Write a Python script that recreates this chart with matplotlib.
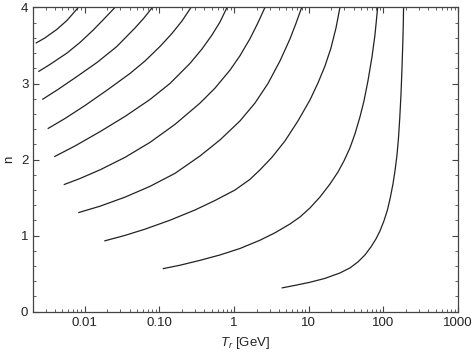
#!/usr/bin/env python3

import matplotlib
matplotlib.use('Agg')
import matplotlib.pyplot as plt
import numpy as np
from matplotlib.ticker import FixedLocator, LogLocator, MultipleLocator, NullFormatter

plt.rcParams['font.family'] = ['Liberation Sans', 'DejaVu Sans']
plt.rcParams['mathtext.fontset'] = 'custom'
plt.rcParams['mathtext.rm'] = 'Liberation Sans'
plt.rcParams['mathtext.it'] = 'Liberation Sans:italic'

# contour lines: log10(T_r / GeV) and n
c1_logT = [-2.656, -2.532, -2.375, -2.237, -2.086]
c1_n = [3.53, 3.60, 3.71, 3.83, 4.0]

c2_logT = [-2.621, -2.465, -2.241, -2.063, -1.885, -1.729, -1.595]
c2_n = [3.156, 3.251, 3.398, 3.540, 3.704, 3.862, 4.0]

c3_logT = [-2.568, -2.358, -2.107, -1.835, -1.572, -1.327, -1.206, -1.095]
c3_n = [2.79, 2.922, 3.09, 3.277, 3.485, 3.73, 3.862, 4.0]

c4_logT = [-2.496, -2.264, -1.996, -1.688, -1.394, -1.193, -0.992, -0.832, -0.698, -0.577]
c4_n = [2.406, 2.540, 2.711, 2.922, 3.132, 3.296, 3.487, 3.658, 3.822, 4.0]

c5_logT = [-2.407, -2.130, -1.795, -1.461, -1.126, -0.858, -0.591, -0.430, -0.296, -0.189, -0.095]
c5_n = [2.038, 2.179, 2.367, 2.567, 2.790, 3.001, 3.264, 3.454, 3.638, 3.809, 4.0]

c6_logT = [-2.281, -2.063, -1.795, -1.461, -1.126, -0.791, -0.457, -0.256, -0.055,
           0.079, 0.213, 0.320, 0.413]
c6_n = [1.670, 1.751, 1.865, 2.029, 2.226, 2.463, 2.742, 2.939, 3.176,
        3.366, 3.590, 3.800, 4.0]

c7_logT = [-2.086, -1.795, -1.461, -1.126, -0.791, -0.457, -0.189, 0.079, 0.280,
           0.454, 0.614, 0.748, 0.828, 0.905]
c7_n = [1.302, 1.387, 1.506, 1.648, 1.819, 2.047, 2.258, 2.508, 2.744,
        3.001, 3.296, 3.586, 3.790, 4.0]

c8_logT = [-1.738, -1.461, -1.193, -0.858, -0.524, -0.256, 0.012, 0.213, 0.347,
           0.507, 0.681, 0.855, 1.016, 1.123, 1.217, 1.297, 1.364, 1.417]
c8_n = [0.930, 1.003, 1.085, 1.203, 1.337, 1.462, 1.600, 1.740, 1.865,
        2.030, 2.245, 2.508, 2.784, 3.007, 3.231, 3.467, 3.730, 4.0]

c9_logT = [-0.956, -0.724, -0.457, -0.189, 0.079, 0.347, 0.547, 0.748, 0.882, 1.016,
           1.150, 1.284, 1.391, 1.471, 1.551, 1.618, 1.685, 1.739, 1.792, 1.846,
           1.886, 1.922]
c9_n = [0.565, 0.611, 0.675, 0.746, 0.831, 0.940, 1.037, 1.153, 1.245, 1.364,
        1.508, 1.679, 1.837, 1.982, 2.153, 2.337, 2.560, 2.771, 3.034, 3.349,
        3.638, 4.0]

c10_logT = [0.637, 0.815, 1.016, 1.217, 1.417, 1.551, 1.658, 1.752, 1.832, 1.899,
            1.953, 2.006, 2.053, 2.093, 2.127, 2.154, 2.181, 2.201, 2.218, 2.234,
            2.247, 2.258, 2.265, 2.269]
c10_n = [0.312, 0.346, 0.387, 0.438, 0.509, 0.575, 0.654, 0.746, 0.851, 0.956,
         1.061, 1.193, 1.337, 1.508, 1.679, 1.850, 2.060, 2.284, 2.547, 2.849,
         3.178, 3.507, 3.770, 4.0]

curves = [(c1_logT, c1_n), (c2_logT, c2_n), (c3_logT, c3_n), (c4_logT, c4_n),
          (c5_logT, c5_n), (c6_logT, c6_n), (c7_logT, c7_n), (c8_logT, c8_n),
          (c9_logT, c9_n), (c10_logT, c10_n)]

xticks = [0.01, 0.1, 1, 10, 100, 1000]
xticklabels = ['0.01', '0.10', '1', '10', '100', '1000']
yticks = [0, 1, 2, 3, 4]

fig = plt.figure(figsize=(4.74, 3.55), dpi=100)
ax = fig.add_axes([0.0686, 0.122, 0.898, 0.857])

for logT, n in curves:
    ax.plot(10 ** np.array(logT), n, color='#222222', lw=0.9,
            solid_joinstyle='round', solid_capstyle='butt')

ax.set_xscale('log')
ax.set_xlim(0.002, 1000)
ax.set_ylim(0, 4)

ax.xaxis.set_major_locator(FixedLocator(xticks))
ax.set_xticklabels(xticklabels)
ax.xaxis.set_minor_locator(LogLocator(base=10, subs=range(2, 10), numticks=20))
ax.xaxis.set_minor_formatter(NullFormatter())
ax.yaxis.set_major_locator(FixedLocator(yticks))
ax.yaxis.set_minor_locator(MultipleLocator(0.2))

ax.tick_params(which='both', direction='in', top=True, right=True,
               color='#444444', labelsize=9.5, labelcolor='#222222')
ax.tick_params(which='major', length=4.5, width=0.8)
ax.tick_params(which='minor', length=2.5, width=0.6)
ax.tick_params(axis='x', pad=4)
ax.tick_params(axis='y', pad=3)

for s in ax.spines.values():
    s.set_color('#444444')
    s.set_linewidth(0.9)

ax.set_xlabel('$T_r$ [GeV]', fontsize=9.5, color='#222222', labelpad=4)
ax.set_ylabel('n', fontsize=9.5, color='#222222', labelpad=4)

fig.savefig('out.png', dpi=100)
